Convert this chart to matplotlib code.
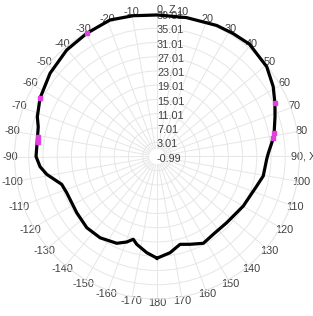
import numpy as np
import matplotlib
matplotlib.use("Agg")
import matplotlib.pyplot as plt
from matplotlib.transforms import ScaledTranslation

# pattern, angle in degrees (clockwise from Z) and level
angle_deg = [-180, -173.9, -167, -164, -160.5, -155.1, -145, -135.4, -125, -111.8,
             -106.3, -99.2, -95, -90, -82.2, -76, -71.6, -63.5, -52.1, -40.3,
             -29.7, -19, -9.6, 0, 12, 24.5, 31.7, 39.4, 50.7, 59,
             65.7, 71.4, 79.6, 83.4, 88.4, 91.5, 100.4, 106.5, 119.8, 133.5,
             144.1, 151.9, 159.4, 165.3, 172.3, 180]
level = [27.56, 26.15, 24.30, 23.18, 24.47, 25.87, 26.86, 27.08, 26.52, 26.32,
         26.88, 30.36, 31.96, 32.97, 32.92, 33.37, 34.41, 35.70, 37.05, 38.20,
         38.81, 39.54, 39.09, 38.73, 38.87, 39.43, 39.60, 39.85, 38.81, 37.07,
         35.33, 33.96, 32.41, 31.40, 30.25, 29.80, 29.33, 28.20, 26.94, 25.99,
         25.96, 26.63, 25.34, 24.50, 26.27, 27.56]

# highlighted points
mark_deg = [-29.7, -63.5, -80.6, -82.9, 65.7, 78.8, 81.1]
mark_level = [38.81, 35.70, 32.95, 32.75, 35.33, 32.58, 32.05]

r_ticks = [-0.99, 3.01, 7.01, 11.01, 15.01, 19.01, 23.01, 27.01, 31.01, 35.01, 39.01]
theta_ticks = np.arange(-170, 181, 10)
theta_labels = []
for t in theta_ticks:
    if t == 0:
        theta_labels.append("0, Z")
    elif t == 90:
        theta_labels.append("90, X")
    else:
        theta_labels.append(str(t))

plt.rcParams['font.family'] = ['Liberation Sans', 'DejaVu Sans']
txt_color = '#404040'
grid_color = '#e6e6e6'

fig = plt.figure(figsize=(3.13, 3.16), dpi=100)
R = 142.5  # px radius of the outer ring
ax = fig.add_axes([(157 - R) / 313, (316 - 156.5 - R) / 316, 2 * R / 313, 2 * R / 316],
                  projection='polar')
ax.set_theta_zero_location('N')
ax.set_theta_direction(-1)

ax.plot(np.deg2rad(angle_deg), level, color='black', linewidth=2.3, zorder=4,
        clip_on=False, solid_joinstyle='round')
ax.plot(np.deg2rad(mark_deg), mark_level, linestyle='none', marker='s', markersize=2.4,
        color='#e040e0', zorder=5, clip_on=False)

ax.set_thetagrids(np.mod(theta_ticks, 360), theta_labels, fontsize=7.8, color=txt_color)
ax.tick_params(axis='x', pad=-7.5)
ax.set_yticks(r_ticks)
ax.set_yticklabels([])
ax.grid(True, color=grid_color, linewidth=0.7)
ax.spines['polar'].set_color(grid_color)
ax.spines['polar'].set_linewidth(0.7)
for lab in ax.get_xticklabels():
    if lab.get_text() == "0, Z":
        lab.set_horizontalalignment('left')

# white hole in the middle
ax.bar(0, 1.2 - r_ticks[0], width=2 * np.pi, bottom=r_ticks[0], color='white',
       zorder=2, linewidth=0)

off = ScaledTranslation(0, -1.5 / 72, fig.dpi_scale_trans)
for v in r_ticks:
    ax.text(0, v, "%.2f" % v, ha='left', va='center', fontsize=7.8, color=txt_color,
            transform=ax.transData + off, zorder=3)

ax.set_xlim(0, 2 * np.pi)
ax.set_ylim(r_ticks[0], r_ticks[-1])

fig.savefig("out.png", dpi=100)
